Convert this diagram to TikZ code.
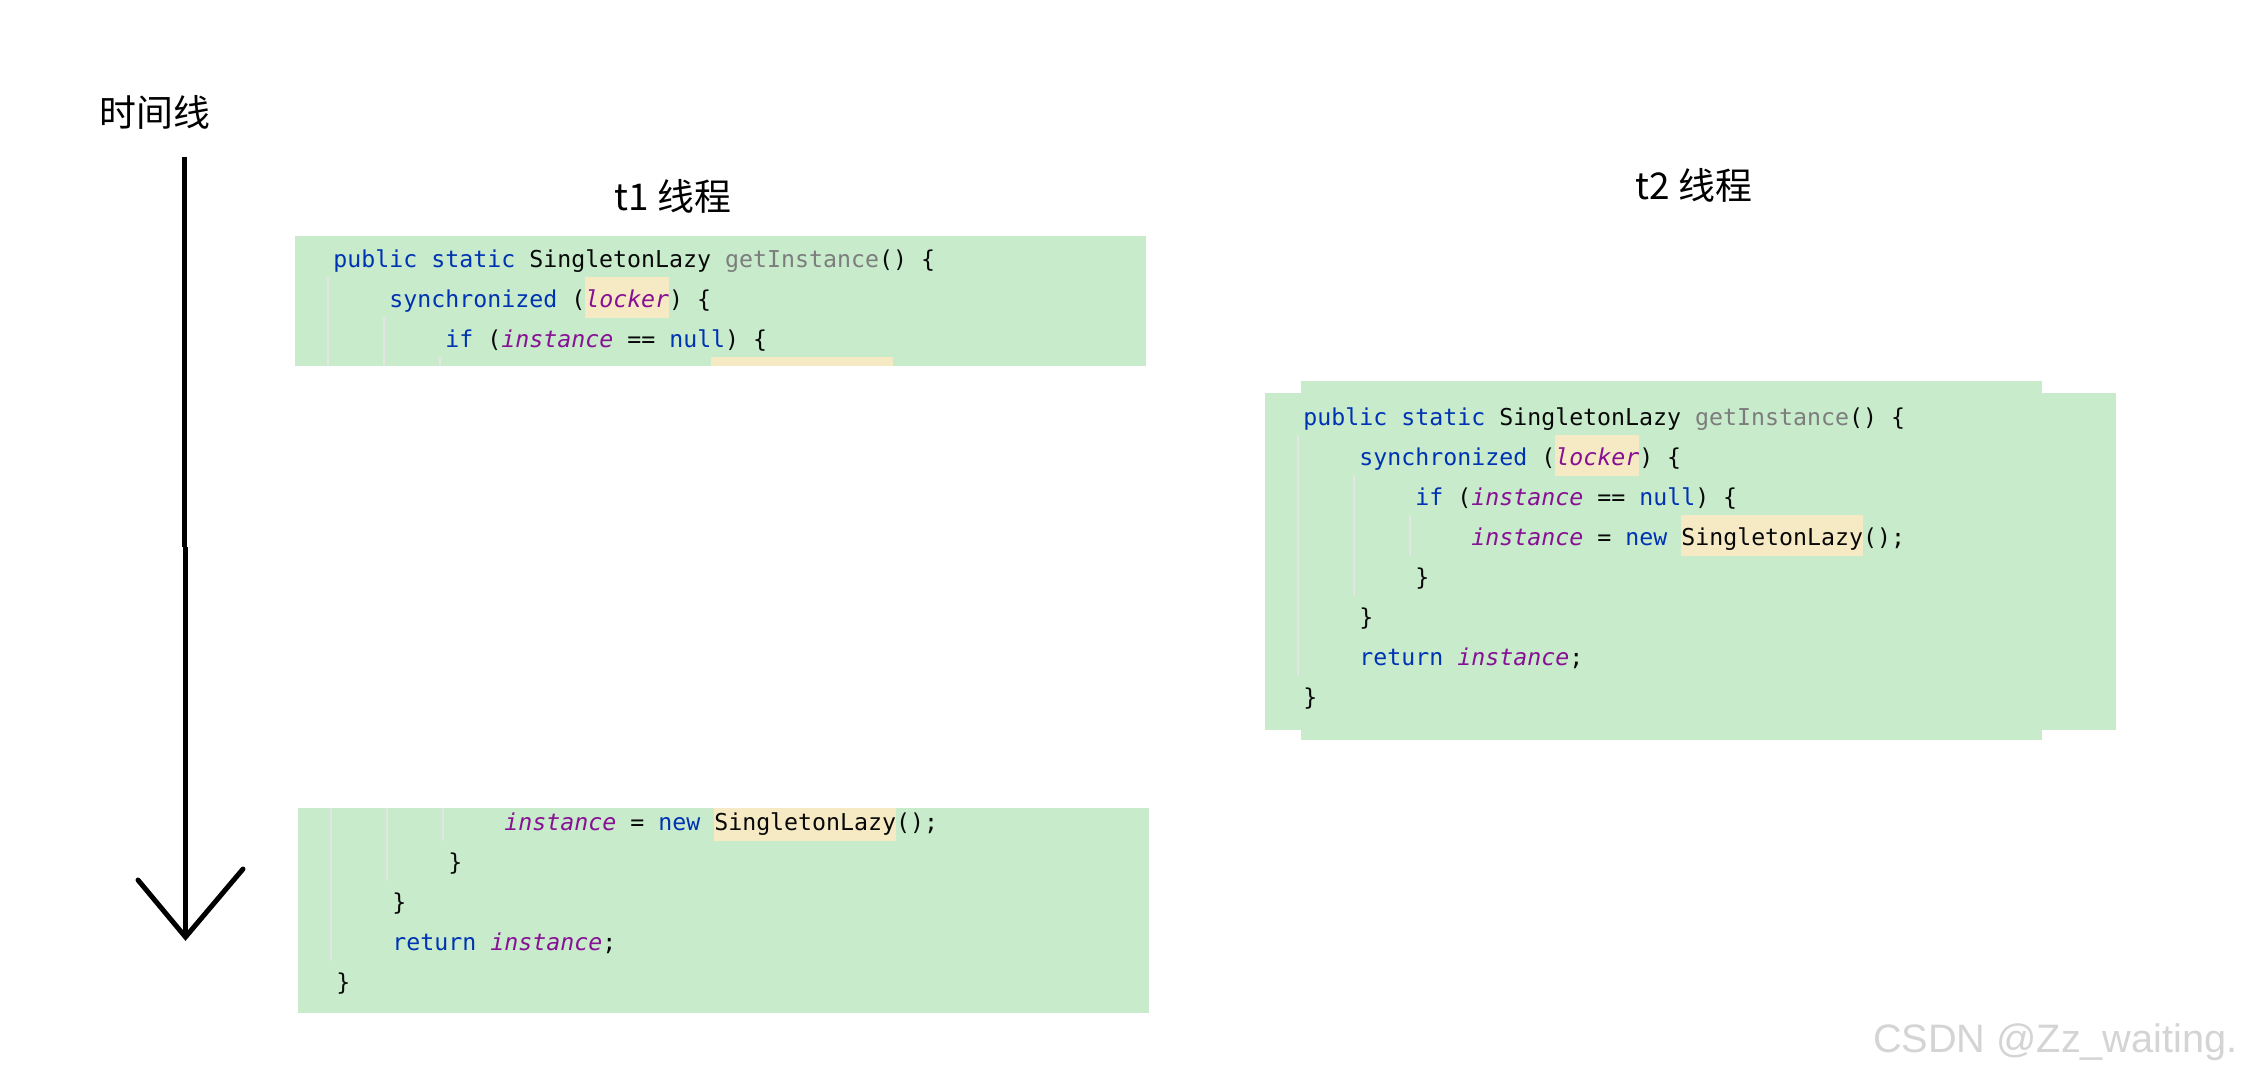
\documentclass[tikz,border=0pt]{standalone}
\usepackage{fontspec}
\usepackage{xcolor}
\usepackage{tikz}
\usetikzlibrary{positioning,calc}
\setmonofont{DejaVu Sans Mono}
\newfontfamily\cjk{Noto Sans CJK SC}
\newfontfamily\wmfont{Liberation Sans}
\definecolor{codegreen}{RGB}{199,235,203}
\definecolor{hlbeige}{RGB}{245,234,196}
\definecolor{kwblue}{RGB}{0,51,179}
\definecolor{fldpurple}{RGB}{135,16,148}
\definecolor{mthgray}{RGB}{125,125,125}
\definecolor{codeink}{RGB}{8,8,8}
\definecolor{guidegray}{RGB}{228,228,228}
\newcommand{\jkw}[1]{\textcolor{kwblue}{#1}}
\newcommand{\jfld}[1]{\textcolor{fldpurple}{\itshape #1}}
\newcommand{\jmth}[1]{\textcolor{mthgray}{#1}}
\tikzset{
  codebg/.style={fill=codegreen},
  hl/.style={fill=hlbeige},
  guide/.style={draw=guidegray, line width=0.85pt},
  code/.style={anchor=base west, inner sep=0pt, text=codeink, font=\ttfamily\fontsize{13.23}{16}\selectfont},
  lbl/.style={inner sep=0pt, font=\cjk\fontsize{21}{25}\selectfont},
  tline/.style={line width=2.85pt, draw=black},
  wm/.style={anchor=base east, inner sep=0pt, text=black!17, font=\wmfont\fontsize{22.6}{26}\selectfont}
}

\begin{document}
\begin{tikzpicture}[x=0.02cm, y=-0.02cm]
  \useasboundingbox (0,0) rectangle (2244,1072);
  % time line
  \node[lbl] (tlabel) at (155,112) {时间线};
  \coordinate (ttop) at (184.5,157);
  \coordinate (tmid) at (184.5,547);
  \coordinate (tmidb) at (185.5,547);
  \coordinate (ttip) at (185.5,937);
  \coordinate (twl) at (138,880);
  \coordinate (twr) at (243,869);
  \draw[tline] (ttop) -- (tmid);
  \draw[tline] (tmidb) -- (ttip);
  \draw[tline, line cap=round, line join=miter] (twl) -- (ttip) -- (twr);
  % thread titles
  \node[lbl] (t1) at (673,196) {t1 线程};
  \node[lbl] (t2) at (1694,185) {t2 线程};
  % t1, first part
  \fill[codebg] (295,236) rectangle (1146,366);
  \fill[hl] (585,277) rectangle (669,318);
  \fill[hl] (711,357) rectangle (893,366);
  \draw[guide] (328,277) -- (328,366);
  \draw[guide] (384,317) -- (384,366);
  \draw[guide] (440,357) -- (440,366);
  \node[code] (a1) at (333,267) {\jkw{public static} SingletonLazy \jmth{getInstance}() \{};
  \node[code] (a2) at (389,307) {\jkw{synchronized} (\jfld{locker}) \{};
  \node[code] (a3) at (445,347) {\jkw{if} (\jfld{instance} == \jkw{null}) \{};
  % t1, second part
  \fill[codebg] (298,808) rectangle (1149,1013);
  \fill[hl] (714,808) rectangle (896,841);
  \draw[guide] (331,808) -- (331,961);
  \draw[guide] (387,808) -- (387,881);
  \draw[guide] (443,808) -- (443,841);
  \node[code] (b1) at (504,830) {\jfld{instance} = \jkw{new} SingletonLazy();};
  \node[code] (b2) at (448,870) {\}};
  \node[code] (b3) at (392,910) {\}};
  \node[code] (b4) at (392,950) {\jkw{return} \jfld{instance};};
  \node[code] (b5) at (336,990) {\}};
  % t2
  \fill[codebg] (1265,393) rectangle (2116,730);
  \fill[codebg] (1301,381) rectangle (2042,740);
  \fill[hl] (1555,435) rectangle (1639,476);
  \fill[hl] (1681,515) rectangle (1863,556);
  \draw[guide] (1298,435) -- (1298,676);
  \draw[guide] (1354,475) -- (1354,596);
  \draw[guide] (1410,515) -- (1410,556);
  \node[code] (c1) at (1303,425) {\jkw{public static} SingletonLazy \jmth{getInstance}() \{};
  \node[code] (c2) at (1359,465) {\jkw{synchronized} (\jfld{locker}) \{};
  \node[code] (c3) at (1415,505) {\jkw{if} (\jfld{instance} == \jkw{null}) \{};
  \node[code] (c4) at (1471,545) {\jfld{instance} = \jkw{new} SingletonLazy();};
  \node[code] (c5) at (1415,585) {\}};
  \node[code] (c6) at (1359,625) {\}};
  \node[code] (c7) at (1359,665) {\jkw{return} \jfld{instance};};
  \node[code] (c8) at (1303,705) {\}};
  % watermark
  \node[wm] (mark1) at (2238,1052) {CSDN @Zz\_waiting.};
\end{tikzpicture}
\end{document}
